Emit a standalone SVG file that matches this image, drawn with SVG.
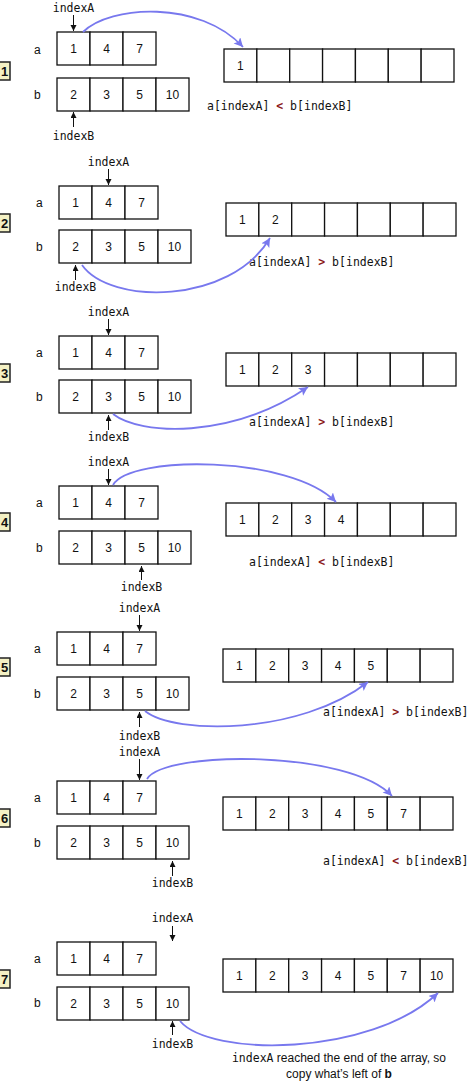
<svg xmlns="http://www.w3.org/2000/svg" width="474" height="1081" viewBox="0 0 474 1081">
<style>
.c{fill:#fff;stroke:#111;stroke-width:1.3}
.n{font-family:"Liberation Sans",Arial,sans-serif;font-size:12px;fill:#111;text-anchor:middle}
.lb{font-family:"Liberation Sans",Arial,sans-serif;font-size:12px;fill:#111}
.m{font-family:"DejaVu Sans Mono","Liberation Mono",monospace;font-size:11.5px;fill:#111}
.mc{font-family:"DejaVu Sans Mono","Liberation Mono",monospace;font-size:11.5px;fill:#111;text-anchor:middle}
.op{fill:#8b1a1a;font-weight:bold}
.bd{fill:#f4f1c4;stroke:#222;stroke-width:1.5}
.bt{font-family:"Liberation Sans",Arial,sans-serif;font-size:13px;font-weight:bold;fill:#111;text-anchor:middle}
.ia{stroke:#111;stroke-width:1;fill:none;marker-end:url(#ka)}
.arc{stroke:#7878ee;stroke-width:1.8;fill:none;marker-end:url(#ba)}
</style>
<defs>
<marker id="ka" markerUnits="userSpaceOnUse" markerWidth="8" markerHeight="8" refX="6" refY="3" orient="auto"><path d="M0,0 L6,3 L0,6 Z" fill="#111"/></marker>
<marker id="ba" markerUnits="userSpaceOnUse" markerWidth="12" markerHeight="12" refX="9" refY="4.5" orient="auto"><path d="M0,0 L9,4.5 L0,9 L2,4.5 Z" fill="#7878ee"/></marker>
</defs>

<!-- Step 1 -->
<g id="step1">
<rect class="bd" x="-1" y="62" width="11" height="18"/><text class="bt" x="4.5" y="76">1</text>
<text class="lb" x="34" y="54">a</text><text class="lb" x="34" y="99">b</text>
<g id="a1"><rect class="c" x="57" y="32" width="33" height="33"/><rect class="c" x="90" y="32" width="33" height="33"/><rect class="c" x="123" y="32" width="33" height="33"/>
<text class="n" x="73.5" y="53">1</text><text class="n" x="106.5" y="53">4</text><text class="n" x="139.5" y="53">7</text></g>
<g id="b1"><rect class="c" x="57" y="78" width="33" height="33"/><rect class="c" x="90" y="78" width="33" height="33"/><rect class="c" x="123" y="78" width="33" height="33"/><rect class="c" x="156" y="78" width="33" height="33"/>
<text class="n" x="73.5" y="99">2</text><text class="n" x="106.5" y="99">3</text><text class="n" x="139.5" y="99">5</text><text class="n" x="172.5" y="99">10</text></g>
<g id="r1"><rect class="c" x="224" y="49" width="32.86" height="33"/><rect class="c" x="256.86" y="49" width="32.86" height="33"/><rect class="c" x="289.71" y="49" width="32.86" height="33"/><rect class="c" x="322.57" y="49" width="32.86" height="33"/><rect class="c" x="355.43" y="49" width="32.86" height="33"/><rect class="c" x="388.29" y="49" width="32.86" height="33"/><rect class="c" x="421.14" y="49" width="32.86" height="33"/>
<text class="n" x="240.4" y="70">1</text></g>
<text class="mc" x="73.5" y="12">indexA</text><line class="ia" x1="73.5" y1="15" x2="73.5" y2="31"/>
<text class="mc" x="73.5" y="140">indexB</text><line class="ia" x1="73.5" y1="127" x2="73.5" y2="112"/>
<text class="m" x="207" y="110">a[indexA] <tspan class="op">&lt;</tspan> b[indexB]</text>
</g>

<!-- Step 2 -->
<g id="step2">
<rect class="bd" x="-1" y="214" width="11" height="18"/><text class="bt" x="4.5" y="228">2</text>
<text class="lb" x="36" y="207">a</text><text class="lb" x="36" y="251">b</text>
<g id="a2"><rect class="c" x="59" y="186" width="33" height="33"/><rect class="c" x="92" y="186" width="33" height="33"/><rect class="c" x="125" y="186" width="33" height="33"/>
<text class="n" x="75.5" y="207">1</text><text class="n" x="108.5" y="207">4</text><text class="n" x="141.5" y="207">7</text></g>
<g id="b2"><rect class="c" x="59" y="230" width="33" height="33"/><rect class="c" x="92" y="230" width="33" height="33"/><rect class="c" x="125" y="230" width="33" height="33"/><rect class="c" x="158" y="230" width="33" height="33"/>
<text class="n" x="75.5" y="251">2</text><text class="n" x="108.5" y="251">3</text><text class="n" x="141.5" y="251">5</text><text class="n" x="174.5" y="251">10</text></g>
<g id="r2"><rect class="c" x="226" y="203" width="32.86" height="33"/><rect class="c" x="258.86" y="203" width="32.86" height="33"/><rect class="c" x="291.71" y="203" width="32.86" height="33"/><rect class="c" x="324.57" y="203" width="32.86" height="33"/><rect class="c" x="357.43" y="203" width="32.86" height="33"/><rect class="c" x="390.29" y="203" width="32.86" height="33"/><rect class="c" x="423.14" y="203" width="32.86" height="33"/>
<text class="n" x="242.4" y="224">1</text><text class="n" x="275.3" y="224">2</text></g>
<text class="mc" x="108.5" y="166">indexA</text><line class="ia" x1="108.5" y1="169" x2="108.5" y2="185"/>
<text class="mc" x="75.5" y="291">indexB</text><line class="ia" x1="75.5" y1="280" x2="75.5" y2="265"/>
<text class="m" x="249" y="266">a[indexA] <tspan class="op">&gt;</tspan> b[indexB]</text>
</g>

<!-- Step 3 -->
<g id="step3">
<rect class="bd" x="-1" y="364" width="11" height="18"/><text class="bt" x="4.5" y="378">3</text>
<text class="lb" x="36" y="357">a</text><text class="lb" x="36" y="401">b</text>
<g id="a3"><rect class="c" x="59" y="336" width="33" height="33"/><rect class="c" x="92" y="336" width="33" height="33"/><rect class="c" x="125" y="336" width="33" height="33"/>
<text class="n" x="75.5" y="357">1</text><text class="n" x="108.5" y="357">4</text><text class="n" x="141.5" y="357">7</text></g>
<g id="b3"><rect class="c" x="59" y="380" width="33" height="33"/><rect class="c" x="92" y="380" width="33" height="33"/><rect class="c" x="125" y="380" width="33" height="33"/><rect class="c" x="158" y="380" width="33" height="33"/>
<text class="n" x="75.5" y="401">2</text><text class="n" x="108.5" y="401">3</text><text class="n" x="141.5" y="401">5</text><text class="n" x="174.5" y="401">10</text></g>
<g id="r3"><rect class="c" x="226" y="353" width="32.86" height="33"/><rect class="c" x="258.86" y="353" width="32.86" height="33"/><rect class="c" x="291.71" y="353" width="32.86" height="33"/><rect class="c" x="324.57" y="353" width="32.86" height="33"/><rect class="c" x="357.43" y="353" width="32.86" height="33"/><rect class="c" x="390.29" y="353" width="32.86" height="33"/><rect class="c" x="423.14" y="353" width="32.86" height="33"/>
<text class="n" x="242.4" y="374">1</text><text class="n" x="275.3" y="374">2</text><text class="n" x="308.1" y="374">3</text></g>
<text class="mc" x="108.5" y="316">indexA</text><line class="ia" x1="108.5" y1="319" x2="108.5" y2="335"/>
<text class="mc" x="108.5" y="441">indexB</text><line class="ia" x1="108.5" y1="430" x2="108.5" y2="415"/>
<text class="m" x="249" y="426">a[indexA] <tspan class="op">&gt;</tspan> b[indexB]</text>
</g>

<!-- Step 4 -->
<g id="step4">
<rect class="bd" x="-1" y="513" width="11" height="18"/><text class="bt" x="4.5" y="527">4</text>
<text class="lb" x="36" y="507">a</text><text class="lb" x="36" y="552">b</text>
<g id="a4"><rect class="c" x="59" y="486" width="33" height="33"/><rect class="c" x="92" y="486" width="33" height="33"/><rect class="c" x="125" y="486" width="33" height="33"/>
<text class="n" x="75.5" y="507">1</text><text class="n" x="108.5" y="507">4</text><text class="n" x="141.5" y="507">7</text></g>
<g id="b4"><rect class="c" x="59" y="531" width="33" height="33"/><rect class="c" x="92" y="531" width="33" height="33"/><rect class="c" x="125" y="531" width="33" height="33"/><rect class="c" x="158" y="531" width="33" height="33"/>
<text class="n" x="75.5" y="552">2</text><text class="n" x="108.5" y="552">3</text><text class="n" x="141.5" y="552">5</text><text class="n" x="174.5" y="552">10</text></g>
<g id="r4"><rect class="c" x="226" y="503" width="32.86" height="33"/><rect class="c" x="258.86" y="503" width="32.86" height="33"/><rect class="c" x="291.71" y="503" width="32.86" height="33"/><rect class="c" x="324.57" y="503" width="32.86" height="33"/><rect class="c" x="357.43" y="503" width="32.86" height="33"/><rect class="c" x="390.29" y="503" width="32.86" height="33"/><rect class="c" x="423.14" y="503" width="32.86" height="33"/>
<text class="n" x="242.4" y="524">1</text><text class="n" x="275.3" y="524">2</text><text class="n" x="308.1" y="524">3</text><text class="n" x="341" y="524">4</text></g>
<text class="mc" x="108.5" y="466">indexA</text><line class="ia" x1="108.5" y1="469" x2="108.5" y2="485"/>
<text class="mc" x="141.5" y="591">indexB</text><line class="ia" x1="141.5" y1="580" x2="141.5" y2="566"/>
<text class="m" x="249" y="566">a[indexA] <tspan class="op">&lt;</tspan> b[indexB]</text>
</g>

<!-- Step 5 -->
<g id="step5">
<rect class="bd" x="-1" y="658" width="11" height="18"/><text class="bt" x="4.5" y="672">5</text>
<text class="lb" x="34" y="653">a</text><text class="lb" x="34" y="698">b</text>
<g id="a5"><rect class="c" x="57" y="632" width="33" height="33"/><rect class="c" x="90" y="632" width="33" height="33"/><rect class="c" x="123" y="632" width="33" height="33"/>
<text class="n" x="73.5" y="653">1</text><text class="n" x="106.5" y="653">4</text><text class="n" x="139.5" y="653">7</text></g>
<g id="b5"><rect class="c" x="57" y="677" width="33" height="33"/><rect class="c" x="90" y="677" width="33" height="33"/><rect class="c" x="123" y="677" width="33" height="33"/><rect class="c" x="156" y="677" width="33" height="33"/>
<text class="n" x="73.5" y="698">2</text><text class="n" x="106.5" y="698">3</text><text class="n" x="139.5" y="698">5</text><text class="n" x="172.5" y="698">10</text></g>
<g id="r5"><rect class="c" x="223" y="649" width="32.86" height="33"/><rect class="c" x="255.86" y="649" width="32.86" height="33"/><rect class="c" x="288.71" y="649" width="32.86" height="33"/><rect class="c" x="321.57" y="649" width="32.86" height="33"/><rect class="c" x="354.43" y="649" width="32.86" height="33"/><rect class="c" x="387.29" y="649" width="32.86" height="33"/><rect class="c" x="420.14" y="649" width="32.86" height="33"/>
<text class="n" x="239.4" y="670">1</text><text class="n" x="272.3" y="670">2</text><text class="n" x="305.1" y="670">3</text><text class="n" x="338" y="670">4</text><text class="n" x="370.9" y="670">5</text></g>
<text class="mc" x="139.5" y="612">indexA</text><line class="ia" x1="139.5" y1="615" x2="139.5" y2="631"/>
<text class="mc" x="139.5" y="740">indexB</text><line class="ia" x1="139.5" y1="727" x2="139.5" y2="712"/>
<text class="m" x="323" y="716">a[indexA] <tspan class="op">&gt;</tspan> b[indexB]</text>
</g>

<!-- Step 6 -->
<g id="step6">
<rect class="bd" x="-1" y="809" width="11" height="18"/><text class="bt" x="4.5" y="823">6</text>
<text class="lb" x="34" y="802">a</text><text class="lb" x="34" y="847">b</text>
<g id="a6"><rect class="c" x="57" y="781" width="33" height="33"/><rect class="c" x="90" y="781" width="33" height="33"/><rect class="c" x="123" y="781" width="33" height="33"/>
<text class="n" x="73.5" y="802">1</text><text class="n" x="106.5" y="802">4</text><text class="n" x="139.5" y="802">7</text></g>
<g id="b6"><rect class="c" x="57" y="826" width="33" height="33"/><rect class="c" x="90" y="826" width="33" height="33"/><rect class="c" x="123" y="826" width="33" height="33"/><rect class="c" x="156" y="826" width="33" height="33"/>
<text class="n" x="73.5" y="847">2</text><text class="n" x="106.5" y="847">3</text><text class="n" x="139.5" y="847">5</text><text class="n" x="172.5" y="847">10</text></g>
<g id="r6"><rect class="c" x="223" y="797" width="32.86" height="33"/><rect class="c" x="255.86" y="797" width="32.86" height="33"/><rect class="c" x="288.71" y="797" width="32.86" height="33"/><rect class="c" x="321.57" y="797" width="32.86" height="33"/><rect class="c" x="354.43" y="797" width="32.86" height="33"/><rect class="c" x="387.29" y="797" width="32.86" height="33"/><rect class="c" x="420.14" y="797" width="32.86" height="33"/>
<text class="n" x="239.4" y="818">1</text><text class="n" x="272.3" y="818">2</text><text class="n" x="305.1" y="818">3</text><text class="n" x="338" y="818">4</text><text class="n" x="370.9" y="818">5</text><text class="n" x="403.7" y="818">7</text></g>
<text class="mc" x="139.5" y="756">indexA</text><line class="ia" x1="139.5" y1="759" x2="139.5" y2="780"/>
<text class="mc" x="172.5" y="887">indexB</text><line class="ia" x1="172.5" y1="876" x2="172.5" y2="861"/>
<text class="m" x="323" y="865">a[indexA] <tspan class="op">&lt;</tspan> b[indexB]</text>
</g>

<!-- Step 7 -->
<g id="step7">
<rect class="bd" x="-1" y="970" width="11" height="18"/><text class="bt" x="4.5" y="984">7</text>
<text class="lb" x="34" y="963">a</text><text class="lb" x="34" y="1007">b</text>
<g id="a7"><rect class="c" x="57" y="942" width="33" height="33"/><rect class="c" x="90" y="942" width="33" height="33"/><rect class="c" x="123" y="942" width="33" height="33"/>
<text class="n" x="73.5" y="963">1</text><text class="n" x="106.5" y="963">4</text><text class="n" x="139.5" y="963">7</text></g>
<g id="b7"><rect class="c" x="57" y="987" width="33" height="33"/><rect class="c" x="90" y="987" width="33" height="33"/><rect class="c" x="123" y="987" width="33" height="33"/><rect class="c" x="156" y="987" width="33" height="33"/>
<text class="n" x="73.5" y="1008">2</text><text class="n" x="106.5" y="1008">3</text><text class="n" x="139.5" y="1008">5</text><text class="n" x="172.5" y="1008">10</text></g>
<g id="r7"><rect class="c" x="223" y="959" width="32.86" height="33"/><rect class="c" x="255.86" y="959" width="32.86" height="33"/><rect class="c" x="288.71" y="959" width="32.86" height="33"/><rect class="c" x="321.57" y="959" width="32.86" height="33"/><rect class="c" x="354.43" y="959" width="32.86" height="33"/><rect class="c" x="387.29" y="959" width="32.86" height="33"/><rect class="c" x="420.14" y="959" width="32.86" height="33"/>
<text class="n" x="239.4" y="980">1</text><text class="n" x="272.3" y="980">2</text><text class="n" x="305.1" y="980">3</text><text class="n" x="338" y="980">4</text><text class="n" x="370.9" y="980">5</text><text class="n" x="403.7" y="980">7</text><text class="n" x="436.6" y="980">10</text></g>
<text class="mc" x="172.5" y="922">indexA</text><line class="ia" x1="172.5" y1="926" x2="172.5" y2="941"/>
<text class="mc" x="172.5" y="1048">indexB</text><line class="ia" x1="172.5" y1="1035" x2="172.5" y2="1021"/>
<text class="n" x="339" y="1062"><tspan class="m">indexA</tspan> reached the end of the array, so</text>
<text class="n" x="339" y="1078">copy what’s left of <tspan font-weight="bold">b</tspan></text>
</g>

<g id="connectors">
<path class="arc" d="M 83 32 C 110 5, 200 0, 243 47"/>
<path class="arc" d="M 82 265 C 110 305, 230 305, 270 238"/>
<path class="arc" d="M 113 414 C 140 435, 230 440, 308 387"/>
<path class="arc" d="M 113 485 C 130 455, 290 455, 336 502"/>
<path class="arc" d="M 145 711 C 175 735, 300 735, 368 682"/>
<path class="arc" d="M 147 779 C 165 750, 350 750, 392 796"/>
<path class="arc" d="M 180 1021 C 210 1057, 370 1057, 438 993"/>
</g>
</svg>
